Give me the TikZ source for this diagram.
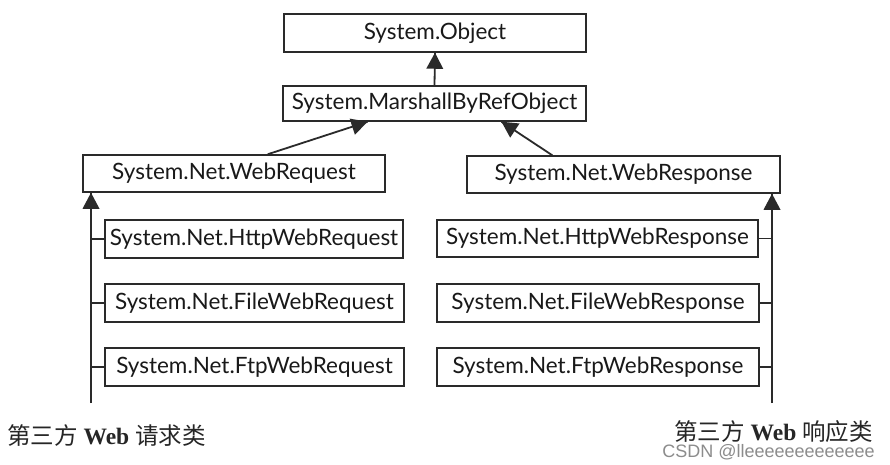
\documentclass[tikz,border=0pt]{standalone}
\usepackage{fontspec}
\setmainfont{Liberation Serif}
\setsansfont{Lato}
\newfontfamily\cjk{Noto Sans CJK SC}
\newfontfamily\wmfont{Liberation Sans}
\usetikzlibrary{calc}
\definecolor{ink}{HTML}{2A2A2A}
\newcommand\drawtip[2]{%
  \coordinate (tb) at ($(#2)!16pt!(#1)$);
  \fill[ink] (#2) -- ($(tb)!8.5pt!90:(#2)$) -- ($(tb)!8.5pt!-90:(#2)$) -- cycle;}
\begin{document}
\begin{tikzpicture}[x=1pt,y=-1pt,
  cls/.style={draw=ink,line width=1.5pt,fill=white,inner sep=0pt,
    font=\sffamily\fontsize{22.5}{26}\selectfont,text=black!90},
  link/.style={draw=ink,line width=1.8pt},
  lbl/.style={font=\fontsize{23.5}{28}\selectfont,text=black!85,inner sep=0pt}
]
\useasboundingbox (0,0) rectangle (890,465);
\fill[white] (0,0) rectangle (890,465);

\node[cls,minimum width=302pt,minimum height=38pt] (obj) at (435,33) {System.Object};
\node[cls,minimum width=303pt,minimum height=35pt] (mbr) at (434.5,103.5) {System.MarshallByRefObject};
\node[cls,minimum width=302pt,minimum height=37pt] (req) at (234,173.5) {System.Net.WebRequest};
\node[cls,minimum width=313pt,minimum height=37pt] (resp) at (623.5,174.5) {System.Net.WebResponse};

\node[cls,minimum width=298pt,minimum height=38pt] (hreq) at (254,239) {System.Net.HttpWebRequest};
\node[cls,minimum width=299pt,minimum height=38pt] (freq) at (254.5,303) {System.Net.FileWebRequest};
\node[cls,minimum width=299pt,minimum height=38pt] (ftreq) at (254.5,367) {System.Net.FtpWebRequest};

\node[cls,minimum width=321pt,minimum height=37pt] (hresp) at (597.5,238.5) {System.Net.HttpWebResponse};
\node[cls,minimum width=322pt,minimum height=38pt] (fresp) at (598,303) {System.Net.FileWebResponse};
\node[cls,minimum width=322pt,minimum height=38pt] (ftresp) at (598,367) {System.Net.FtpWebResponse};

% connector end points
\coordinate (mL) at ([xshift=-67pt]mbr.south);
\coordinate (mR) at ([xshift=67pt]mbr.south);
\coordinate (rqT) at ([xshift=-118pt]req.north east);
\coordinate (rsT) at ([xshift=86pt]resp.north west);
\coordinate (lb) at (91,403);
\coordinate (rb) at (772,403);
\coordinate (lt) at (lb |- req.south);
\coordinate (rt) at (rb |- resp.south);

% inheritance lines
\draw[link] (mbr.north) -- (obj.south);
\draw[link] (rqT) -- (mL);
\draw[link] (rsT) -- (mR);
\draw[link] (lb) -- (lt);
\draw[link] (rb) -- (rt);

% branches
\draw[link] (hreq.west) -- (hreq.west -| lb);
\draw[link] (freq.west) -- (freq.west -| lb);
\draw[link] (ftreq.west) -- (ftreq.west -| lb);
\draw[link] (hresp.east) -- (hresp.east -| rb);
\draw[link] (fresp.east) -- (fresp.east -| rb);
\draw[link] (ftresp.east) -- (ftresp.east -| rb);

% arrowheads
\drawtip{mbr.north}{obj.south}
\drawtip{rqT}{mL}
\drawtip{rsT}{mR}
\drawtip{lb}{lt}
\drawtip{rb}{rt}

% labels
\node[lbl,anchor=west] (lreq) at (7,436) {{\cjk 第三方} \textbf{Web} {\cjk 请求类}};
\node[lbl,anchor=east] (lresp) at (873,432) {{\cjk 第三方} \textbf{Web} {\cjk 响应类}};

% watermark
\node[anchor=east,inner sep=0pt,font=\wmfont\fontsize{18}{20}\selectfont,text=black!45] (wm) at (875,452) {CSDN @lleeeeeeeeeeeee};
\end{tikzpicture}
\end{document}
